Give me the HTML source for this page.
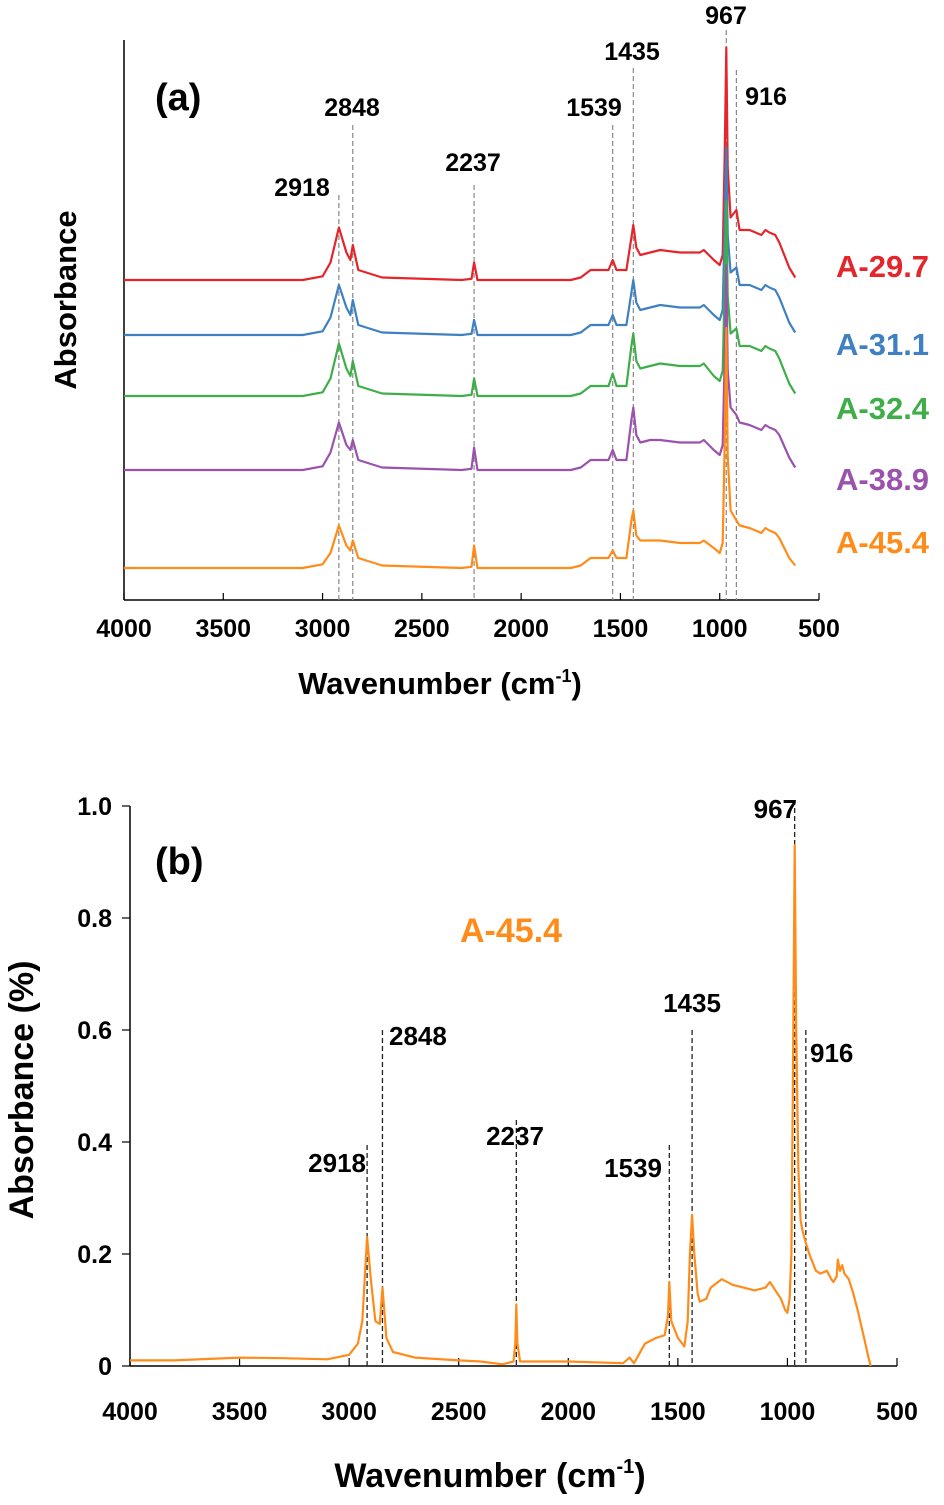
<!DOCTYPE html>
<html><head><meta charset="utf-8"><style>
html,body{margin:0;padding:0;background:#fff;}
svg text{font-family:"Liberation Sans",Arial,sans-serif;font-weight:bold;}
</style></head><body>
<svg id="chart" width="944" height="1500" viewBox="0 0 944 1500" xmlns="http://www.w3.org/2000/svg">
<g id="pa"></g>
<g id="pb"></g>
</svg>
<script>
// ---------- data ----------
const xTicks = [4000,3500,3000,2500,2000,1500,1000,500];
const yTicksB = [0,0.2,0.4,0.6,0.8,1.0];
const yTickLabelsB = ["0","0.2","0.4","0.6","0.8","1.0"];
const peakPositions = [2918,2848,2237,1539,1435,967,916];
const peakLabels = ["2918","2848","2237","1539","1435","967","916"];
const seriesNames = ["A-29.7","A-31.1","A-32.4","A-38.9","A-45.4"];
const seriesColors = ["#e3262b","#3f80c2","#3fae49","#9a52ad","#ff8c1a"];
const seriesOffsets = [1.28,1.06,0.816,0.52,0.128];
const wnA = [4000,3100,3000,2960,2918,2880,2860,2848,2820,2700,2300,2250,2237,2220,1750,1700,1650,1600,1560,1539,1520,1470,1445,1435,1420,1400,1350,1300,1200,1100,1080,1030,1000,985,975,967,960,945,916,900,850,820,790,770,750,720,700,650,620];
const valsA297 = [0,0,0.015,0.07,0.21,0.11,0.08,0.14,0.04,0.01,0,0.005,0.07,0,0,0.01,0.04,0.04,0.04,0.08,0.04,0.04,0.17,0.22,0.13,0.1,0.11,0.12,0.11,0.11,0.12,0.08,0.06,0.1,0.5,0.93,0.45,0.25,0.28,0.2,0.2,0.19,0.18,0.2,0.19,0.18,0.15,0.05,0.01];
const valsA311 = [0,0,0.015,0.07,0.2,0.11,0.08,0.14,0.04,0.01,0,0.005,0.06,0,0,0.01,0.04,0.04,0.04,0.08,0.04,0.04,0.17,0.22,0.13,0.1,0.11,0.12,0.11,0.11,0.12,0.08,0.06,0.1,0.45,0.75,0.4,0.25,0.27,0.2,0.2,0.19,0.18,0.2,0.19,0.18,0.15,0.05,0.01];
const valsA324 = [0,0,0.015,0.07,0.21,0.11,0.08,0.14,0.04,0.01,0,0.005,0.07,0,0,0.01,0.04,0.04,0.04,0.09,0.04,0.04,0.2,0.25,0.14,0.11,0.12,0.13,0.12,0.12,0.13,0.08,0.06,0.1,0.45,0.78,0.4,0.25,0.27,0.2,0.2,0.19,0.18,0.2,0.19,0.18,0.15,0.05,0.01];
const valsA389 = [0,0,0.015,0.07,0.19,0.1,0.08,0.12,0.04,0.01,0,0.005,0.09,0,0,0.01,0.04,0.04,0.04,0.08,0.04,0.04,0.2,0.25,0.14,0.11,0.12,0.12,0.11,0.11,0.12,0.08,0.06,0.1,0.45,0.82,0.4,0.25,0.22,0.19,0.18,0.17,0.16,0.18,0.17,0.16,0.14,0.05,0.01];
const valsA454 = [0,0,0.015,0.06,0.17,0.09,0.07,0.11,0.04,0.01,0,0.005,0.09,0,0,0.01,0.04,0.04,0.04,0.07,0.04,0.04,0.19,0.23,0.13,0.11,0.11,0.11,0.1,0.1,0.11,0.08,0.06,0.1,0.5,0.96,0.45,0.23,0.19,0.17,0.16,0.15,0.14,0.16,0.15,0.14,0.12,0.04,0.01];
const seriesValues = [valsA297,valsA311,valsA324,valsA389,valsA454];
const wnB = [4000,3800,3500,3300,3100,3000,2960,2940,2918,2900,2880,2860,2848,2830,2800,2700,2500,2400,2300,2250,2242,2237,2232,2220,2000,1750,1720,1700,1650,1600,1560,1545,1539,1530,1500,1470,1455,1445,1435,1425,1410,1400,1370,1350,1300,1250,1200,1150,1100,1080,1030,1010,1000,990,982,975,967,960,950,940,930,916,900,870,850,820,800,790,775,770,760,750,740,720,700,680,650,630,620];
const valsB = [0.01,0.01,0.015,0.014,0.012,0.02,0.04,0.08,0.23,0.15,0.08,0.075,0.14,0.05,0.025,0.015,0.01,0.008,0.003,0.008,0.04,0.11,0.04,0.008,0.008,0.005,0.015,0.005,0.04,0.05,0.055,0.09,0.15,0.08,0.05,0.035,0.08,0.2,0.27,0.2,0.13,0.115,0.12,0.14,0.155,0.145,0.14,0.135,0.14,0.15,0.12,0.1,0.095,0.12,0.2,0.5,0.93,0.6,0.35,0.26,0.24,0.22,0.2,0.17,0.165,0.17,0.155,0.15,0.16,0.19,0.17,0.18,0.165,0.155,0.13,0.1,0.05,0.015,0.0];

// ---------- helpers ----------
const NS="http://www.w3.org/2000/svg";
function mk(parent,tag,attrs,text){const e=document.createElementNS(NS,tag);for(const k in attrs)e.setAttribute(k,attrs[k]);if(text!==undefined)e.textContent=text;parent.appendChild(e);return e;}

// ---------- panel A ----------
const pa=document.getElementById('pa');
const xA=w=>124+(4000-w)*(819-124)/3500;
const yA=v=>600-v*250;
let e;
e=mk(pa,'line',{x1:124,y1:40,x2:124,y2:600,stroke:'#000','stroke-width':1.5});


e=mk(pa,'line',{x1:124,y1:600,x2:819,y2:600,stroke:'#000','stroke-width':1.5});


xTicks.forEach(t=>{
  e=mk(pa,'line',{x1:xA(t),y1:600,x2:xA(t),y2:593,stroke:'#000','stroke-width':1.2});
  
  
  e=mk(pa,'text',{x:xA(t),y:637,'font-size':25,'text-anchor':'middle'},String(t));
  
  
});
const dashTopA=[195,125,185,125,68,30,70];
const labelPosA=[[302,196],[352,116],[473,171],[594,116],[632,60],[726,24],[766,105]];
peakPositions.forEach((p,i)=>{
  e=mk(pa,'line',{x1:xA(p),y1:dashTopA[i],x2:xA(p),y2:600,stroke:'#888','stroke-width':1.2,'stroke-dasharray':'5,3'});
  
  
  e=mk(pa,'text',{x:labelPosA[i][0],y:labelPosA[i][1],'font-size':25,'text-anchor':'middle'},peakLabels[i]);
  
  
});
const legendY=[277,355,419,490,553];
seriesValues.forEach((vals,s)=>{
  const d=vals.map((v,i)=>(i?'L':'M')+xA(wnA[i]).toFixed(1)+','+yA(v+seriesOffsets[s]).toFixed(1)).join(' ');
  e=mk(pa,'path',{d:d,fill:'none',stroke:seriesColors[s],'stroke-width':2.2,'stroke-linejoin':'round'});
  
  
  e=mk(pa,'text',{x:836,y:legendY[s],'font-size':31,fill:seriesColors[s]},seriesNames[s]);
  
  
});
e=mk(pa,'text',{x:155,y:110,'font-size':38},'(a)');


e=mk(pa,'text',{x:0,y:0,'font-size':31,'text-anchor':'middle',transform:'translate(76,300) rotate(-90)'},'Absorbance');


e=mk(pa,'text',{x:440,y:694,'font-size':31,'text-anchor':'middle'},'Wavenumber (cm');


mk(e,'tspan',{'font-size':18,dy:-12},'-1');
mk(e,'tspan',{dy:12},')');

// ---------- panel B ----------
const pb=document.getElementById('pb');
const xB=w=>130+(4000-w)*(897-130)/3500;
const yB=v=>1366-v*560;
e=mk(pb,'line',{x1:130,y1:806,x2:130,y2:1366,stroke:'#000','stroke-width':1.5});


e=mk(pb,'line',{x1:130,y1:1366,x2:897,y2:1366,stroke:'#000','stroke-width':1.5});


yTicksB.forEach((t,i)=>{
  e=mk(pb,'line',{x1:122,y1:yB(t),x2:130,y2:yB(t),stroke:'#000','stroke-width':1.2});
  
  
  e=mk(pb,'text',{x:112,y:yB(t)+9,'font-size':25,'text-anchor':'end'},yTickLabelsB[i]);
  
  
});
xTicks.forEach(t=>{
  e=mk(pb,'line',{x1:xB(t),y1:1366,x2:xB(t),y2:1358,stroke:'#000','stroke-width':1.2});
  
  
  e=mk(pb,'text',{x:xB(t),y:1420,'font-size':25,'text-anchor':'middle'},String(t));
  
  
});
const dashTopB=[1145,1030,1120,1145,1030,800,1030];
const labelPosB=[[366,1172,'end'],[389,1045,'start'],[515,1145,'middle'],[662,1177,'end'],[692,1012,'middle'],[797,818,'end'],[810,1062,'start']];
peakPositions.forEach((p,i)=>{
  e=mk(pb,'line',{x1:xB(p),y1:dashTopB[i],x2:xB(p),y2:1366,stroke:'#222','stroke-width':1.3,'stroke-dasharray':'5,3'});
  
  
  e=mk(pb,'text',{x:labelPosB[i][0],y:labelPosB[i][1],'font-size':26,'text-anchor':labelPosB[i][2]},peakLabels[i]);
  
  
});
e=mk(pb,'path',{d:valsB.map((v,i)=>(i?'L':'M')+xB(wnB[i]).toFixed(1)+','+yB(v).toFixed(1)).join(' '),fill:'none',stroke:'#ff8c1a','stroke-width':2.2,'stroke-linejoin':'round'});


e=mk(pb,'text',{x:460,y:942,'font-size':34,fill:'#ff8c1a'},'A-45.4');


e=mk(pb,'text',{x:155,y:874,'font-size':38},'(b)');


e=mk(pb,'text',{x:0,y:0,'font-size':34,'text-anchor':'middle',transform:'translate(33,1090) rotate(-90)'},'Absorbance (%)');


e=mk(pb,'text',{x:490,y:1487,'font-size':34,'text-anchor':'middle'},'Wavenumber (cm');


mk(e,'tspan',{'font-size':20,dy:-14},'-1');
mk(e,'tspan',{dy:14},')');
</script>
</body></html>
